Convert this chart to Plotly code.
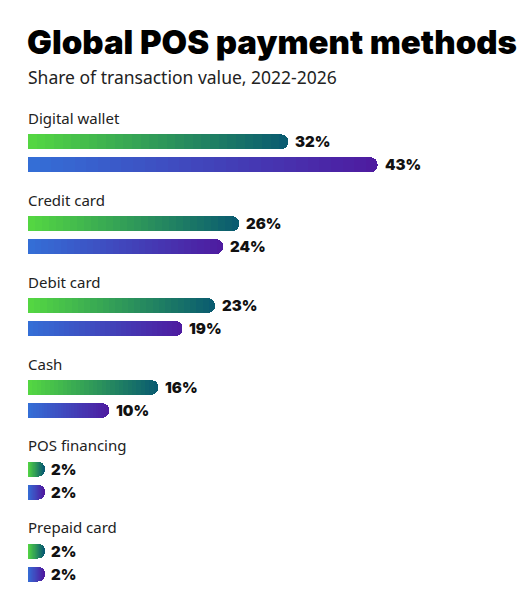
import plotly.graph_objects as go

# data
categories = ["Digital wallet", "Credit card", "Debit card", "Cash", "POS financing", "Prepaid card"]
share_2022 = [32, 26, 23, 16, 2, 2]
share_2026 = [43, 24, 19, 10, 2, 2]

GROUP = 3.5
N_SEG = 30


def mix(c1, c2, t):
    return "rgb(%d,%d,%d)" % tuple(round(a + (b - a) * t) for a, b in zip(c1, c2))


green, teal = (84, 214, 66), (10, 92, 112)
blue, purple = (52, 110, 214), (78, 28, 160)

label_y = [-GROUP * i for i in range(len(categories))]
y_2022 = [y - 1.02 for y in label_y]
y_2026 = [y - 2.0 for y in label_y]

fig = go.Figure()
for vals, ys, c1, c2 in [(share_2022, y_2022, green, teal), (share_2026, y_2026, blue, purple)]:
    for k in range(N_SEG):
        fig.add_trace(go.Bar(
            x=[v / N_SEG for v in vals], y=ys, orientation="h", width=0.64,
            marker=dict(color=mix(c1, c2, k / (N_SEG - 1)), line=dict(width=0)),
            showlegend=False, hoverinfo="skip",
        ))
    for v, y in zip(vals, ys):
        fig.add_annotation(x=v, y=y, text=f"{v}%", showarrow=False, xanchor="left",
                           xshift=5, font=dict(family="Inter", size=15, color="#111", weight=900))

for name, y in zip(categories, label_y):
    fig.add_annotation(x=0, y=y, text=name, showarrow=False, xanchor="left", xshift=-2,
                       font=dict(family="Noto Sans", size=15, color="#222"))

fig.add_annotation(xref="paper", yref="paper", x=0, y=1.0, yshift=58, xshift=-3,
                   text="Global POS payment methods",
                   showarrow=False, xanchor="left", yanchor="middle",
                   font=dict(family="Inter", size=33, color="#000", weight=900))
fig.add_annotation(xref="paper", yref="paper", x=0, y=1.0, yshift=23, xshift=-2,
                   text="Share of transaction value, 2022-2026",
                   showarrow=False, xanchor="left", yanchor="middle",
                   font=dict(family="Noto Sans", size=17.5, color="#222"))

fig.update_layout(
    width=531, height=600,
    margin=dict(l=20, r=11, t=92, b=18),
    barmode="stack", barcornerradius=7,
    plot_bgcolor="white", paper_bgcolor="white",
    xaxis=dict(range=[0, 61.5], visible=False, fixedrange=True),
    yaxis=dict(range=[-20.18, 0.77], visible=False, fixedrange=True),
)

fig.write_html("out.html")
